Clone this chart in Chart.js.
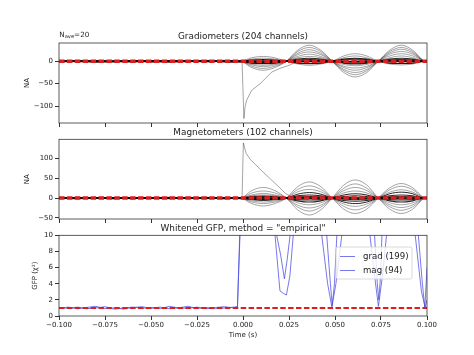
<!DOCTYPE html>
<html><head><meta charset="utf-8">
<script src="https://cdn.jsdelivr.net/npm/chart.js@4"></script>
<style>
html,body{margin:0;padding:0;background:#fff;}
#wrap{position:relative;width:474px;height:355px;overflow:hidden;}
canvas{position:absolute;left:0;top:0;}
</style></head><body>
<div id="wrap">
<canvas id="c1" width="474" height="355"></canvas>
<canvas id="c2" width="474" height="355"></canvas>
<canvas id="c3" width="474" height="355"></canvas>
</div>
<script>
// ---------- tick labels ----------
const xTickValues = [-0.1,-0.075,-0.05,-0.025,0,0.025,0.05,0.075,0.1];
const gradTickValues = [-100,-50,0];
const magTickValues = [-50,0,50,100];
const gfpTickValues = [0,2,4,6,8,10];

// ---------- channel time grid ----------
const chanTimes = [-0.1,-0.08,-0.06,-0.04,-0.02,-0.006,-0.0015,0.00475,0.011,0.01725,0.0235,0.02975,0.036,0.04225,0.0485,0.05475,0.061,0.06725,0.0735,0.07975,0.086,0.09225,0.0985,0.1];
const noiseTimes = [-0.1,-0.09,-0.08,-0.07,-0.06,-0.05,-0.04,-0.03,-0.02,-0.01,0,0.01,0.02,0.03,0.04,0.05,0.06,0.07,0.08,0.09,0.1];

// ---------- gradiometers ----------
const gradSpikeTimes = [-0.1,-0.05,-0.003,-0.0005,0.0005,0.0011,0.002,0.0047,0.0093,0.013,0.0156,0.02,0.025,0.028,0.032,0.04,0.06,0.08,0.1];
const gradSpike = [0,1,0,-2,-128,-102,-87,-65,-50,-35,-24,-16,-9,-3,0,1,-1,0,0];
const gradCh1 = [1,-1,0.5,-0.5,1,0, 0,-14,-20,-14,0,25,36,25,0,-25,-35,-25,0,25,36,25,0,-2];
const gradCh2 = [-0.5,1,-1,0.5,0,-1, 0,-11,-16,-11,0,22,31,22,0,-21,-30,-21,0,22,31,22,0,-2];
const gradCh3 = [0.5,0,1,-1,-0.5,0.5, 0,-8,-12,-8,0,18,26,18,0,-18,-25,-18,0,19,27,19,0,-1];
const gradCh4 = [-1,0.5,0,1,-1,0, 0,-6,-9,-6,0,15,21,15,0,-14,-20,-14,0,16,22,16,0,-1];
const gradCh5 = [0,-0.5,1,0,0.5,-1, 0,-4,-6,-4,0,11,16,11,0,-11,-15,-11,0,12,17,12,0,-1];
const gradCh6 = [1,0,-1,0.5,0,0.5, 0,8,11,8,0,-6,-9,-6,0,12,17,12,0,-6,-8,-6,0,1];
const gradCh7 = [-0.5,0.5,0,-1,1,0, 0,5,7,5,0,-4,-6,-4,0,8,12,8,0,-4,-5,-4,0,0];
const gradCh8 = [0,1,-0.5,0,-1,0.5, 0,-3,-4,-3,0,8,11,8,0,-7,-10,-7,0,8,12,8,0,0];
const gradCh9 = [0.5,-1,0,1,0,-0.5, 0,3,4,3,0,5,7,5,0,-4,-6,-4,0,5,7,5,0,0];
const gradCh10 = [-1,0,1,-0.5,0.5,0, 0,-2,-3,-2,0,-4,-5,-4,0,4,5,4,0,-4,-5,-4,0,0];
const gradCh11 = [0,0.5,-1,1,-0.5,1, 0,2,3,2,0,3,4,3,0,-3,-4,-3,0,3,4,3,0,0];
const gradCh12 = [1,-0.5,0.5,0,1,-1, 0,-4,-5,-4,0,2,3,2,0,5,7,5,0,2,3,2,0,0];
const gradNoise1 = [1.5,-1,2,-0.5,1,-2,0.5,1.5,-1,0,2,-1.5,1,-0.5,1.5,-1,0.5,2,-1,0,1];
const gradNoise2 = [-1.5,1,-2,0.5,-1,1.5,-0.5,-1,2,-1.5,-2,1,-1,0.5,-1.5,1,-0.5,-2,1,-1,-0.5];
const gradNoise3 = [0.5,2,-0.5,-1.5,2,0,-2,0.5,1,2,-0.5,0,2,-1.5,0,2,-1.5,0.5,2,1,-1];

// ---------- magnetometers ----------
const magSpikeTimes = [-0.1,-0.05,-0.003,-0.0005,0.0002,0.0017,0.004,0.01,0.015,0.02,0.023,0.026,0.03,0.04,0.06,0.08,0.1];
const magSpike = [0,-1,0,2,140,113,98,70,48,26,12,4,0,-1,1,0,0];
const magCh1 = [0.5,-1,0,1,-0.5,0, 0,19,27,19,0,-30,-43,-30,0,33,46,33,0,-28,-39,-28,0,2];
const magCh2 = [-1,0.5,1,0,0.5,-0.5, 0,-14,-20,-14,0,29,41,29,0,-28,-39,-28,0,26,37,26,0,-2];
const magCh3 = [0,1,-0.5,-1,0,0.5, 0,13,18,13,0,-23,-33,-23,0,25,36,25,0,-22,-31,-22,0,2];
const magCh4 = [1,0,-1,0.5,1,0, 0,-10,-14,-10,0,22,31,22,0,-21,-30,-21,0,21,30,21,0,-1];
const magCh5 = [-0.5,0.5,0,-1,0,1, 0,8,12,8,0,-18,-25,-18,0,19,27,19,0,-17,-24,-17,0,1];
const magCh6 = [0,-1,0.5,1,-1,0, 0,-7,-10,-7,0,16,22,16,0,-15,-21,-15,0,15,21,15,0,-1];
const magCh7 = [1,0.5,-1,0,0.5,-0.5, 0,6,8,6,0,-12,-17,-12,0,13,18,13,0,-12,-17,-12,0,1];
const magCh8 = [-1,0,0.5,-0.5,0,1, 0,-4,-6,-4,0,10,14,10,0,-10,-14,-10,0,11,15,11,0,0];
const magCh9 = [0.5,-0.5,1,0,-1,0, 0,4,5,4,0,-7,-10,-7,0,8,11,8,0,-7,-10,-7,0,0];
const magCh10 = [0,1,-1,0.5,0,-0.5, 0,-3,-4,-3,0,6,8,6,0,-6,-8,-6,0,6,8,6,0,0];
const magCh11 = [-0.5,0,0.5,-1,1,0, 0,2,3,2,0,-4,-5,-4,0,4,6,4,0,-4,-5,-4,0,0];
const magCh12 = [1,-1,0,0.5,-0.5,1, 0,-2,-3,-2,0,3,4,3,0,-3,-4,-3,0,3,4,3,0,0];
const magNoise1 = [-1.5,2,-0.5,1,-2,1.5,0,-1,2,-0.5,1.5,-2,0.5,1,-1.5,2,-1,0,1.5,-2,0.5];
const magNoise2 = [2,-0.5,1.5,-2,0.5,-1,2,0.5,-1.5,1,-2,1.5,-0.5,-2,1,-1,2,-1.5,0,1,-1];
const magNoise3 = [0,-2,1,1.5,-1,-0.5,-1.5,2,0,-2,0.5,0,-1.5,2,0.5,-0.5,-2,1,-1,0,1.5];

// ---------- whitened GFP ----------
const gfpPreTimes = [-0.1,-0.095,-0.09,-0.085,-0.08,-0.075,-0.07,-0.065,-0.06,-0.055,-0.05,-0.045,-0.04,-0.035,-0.03,-0.025,-0.02,-0.015,-0.01,-0.005];
const gfpGradTimes = gfpPreTimes.concat([-0.003,-0.0015,0.005,0.012,0.0174,0.0201,0.022,0.0236,0.0255,0.0273,0.032,0.037,0.0428,0.046,0.0483,0.0505,0.0537,0.06,0.069,0.0715,0.0736,0.0758,0.078,0.085,0.0936,0.097,0.099,0.1]);
const gfpGrad = [1.05,0.95,1.1,0.9,1.0,1.15,0.85,1.0,1.1,0.95,1.05,0.9,1.2,1.0,0.95,1.1,0.9,1.05,1.15,1.0,
                 1.2,12,60,40,10,3.1,2.8,2.6,5,10,40,60,10,4,1.1,4,10,50,10,5,1.2,5,10,50,10,3,1.1,2];
const gfpMagTimes = gfpPreTimes.concat([-0.003,-0.0015,0.005,0.0183,0.0205,0.0225,0.024,0.0256,0.036,0.0455,0.0475,0.0485,0.0497,0.051,0.06,0.0715,0.073,0.0738,0.0748,0.0755,0.086,0.0953,0.0975,0.0988,0.1]);
const gfpMag = [0.95,1.1,0.9,1.05,1.2,0.9,1.0,0.85,1.05,1.15,0.95,1.1,0.9,1.0,1.2,0.95,1.05,0.9,1.0,1.1,
                1.1,11,50,10,7.5,4.6,7,10,50,10,4,1.3,4,10,50,10,4,2.0,5,10,50,10,4,1.0,6];

const refTimes = [-0.1,0.1];
const refZero = [0,0];
const refOne = [1,1];
const legendLabels = ['grad (199)','mag (94)'];

// ---------- helpers ----------
const FONT = '"DejaVu Sans", sans-serif';
const pts = (xs, ys) => xs.map((x,i)=>({x:x, y:ys[i]}));
const minus = v => (v < 0 ? '\u2212' : '') + Math.abs(v);
const fmtX = v => (v < 0 ? '\u2212' : '') + Math.abs(v).toFixed(3);

function line(xs, ys, color, width, smooth) {
  return { data: pts(xs, ys), borderColor: color, borderWidth: width, pointRadius: 0,
           fill: false, order: 2, tension: smooth ? 0.4 : 0,
           cubicInterpolationMode: smooth ? 'monotone' : 'default' };
}
function refLine(ys, width) {
  return { data: pts(refTimes, ys), borderColor: 'rgb(222,30,30)', borderWidth: width,
           borderDash: [5.5,2.4], pointRadius: 0, fill: false, order: 0, tension: 0 };
}

const GRAY = 'rgba(0,0,0,0.45)', DARK = 'rgba(0,0,0,0.85)';

function decor(title, extra) {
  return { id: 'decor', afterDraw(chart) {
    const ctx = chart.ctx, a = chart.chartArea;
    ctx.save();
    ctx.strokeStyle = '#333'; ctx.lineWidth = 0.8;
    ctx.strokeRect(a.left, a.top, a.right - a.left, a.bottom - a.top);
    ctx.fillStyle = '#222';
    ctx.font = '8.9px ' + FONT; ctx.textAlign = 'center'; ctx.textBaseline = 'alphabetic';
    ctx.fillText(title, (a.left + a.right) / 2, a.top - 4.3);
    if (extra) extra(ctx, a);
    ctx.restore();
  }};
}

function makeChart(id, datasets, cfg) {
  const tickFont = { family: FONT, size: 7 };
  return new Chart(document.getElementById(id), {
    type: 'line',
    data: { datasets: datasets },
    options: {
      responsive: false, animation: false, events: [],
      layout: { padding: cfg.padding },
      scales: {
        x: { type: 'linear', min: -0.1, max: 0.1,
             afterBuildTicks: s => { s.ticks = xTickValues.map(v => ({ value: v })); },
             afterFit: s => { s.height = cfg.xH; },
             grid: { drawOnChartArea: false, drawTicks: true, tickLength: 4, color: '#333' },
             border: { display: false },
             ticks: { display: cfg.xLabels, padding: 1, font: tickFont, color: '#222',
                      maxRotation: 0, autoSkip: false, callback: v => fmtX(v) },
             title: { display: !!cfg.xTitle, text: cfg.xTitle || '', padding: 0, font: tickFont, color: '#222' } },
        y: { type: 'linear', min: cfg.yMin, max: cfg.yMax,
             afterBuildTicks: s => { s.ticks = cfg.yTicks.map(v => ({ value: v })); },
             afterFit: s => { s.width = cfg.yW; },
             grid: { drawOnChartArea: false, drawTicks: true, tickLength: 4, color: '#333' },
             border: { display: false },
             ticks: { padding: 2, font: tickFont, color: '#222', callback: v => minus(v) },
             title: { display: true, text: cfg.yTitle, padding: 0, font: tickFont, color: '#222' } }
      },
      plugins: { legend: { display: false }, tooltip: { enabled: false } }
    },
    plugins: [decor(cfg.title, cfg.extra)]
  });
}

// ---------- panel 1 ----------
const gradSets = [
  refLine(refZero, 3.5),
  line(gradSpikeTimes, gradSpike, GRAY, 0.8, false),
  line(chanTimes, gradCh1, GRAY, 0.8, true),
  line(chanTimes, gradCh2, GRAY, 0.8, true),
  line(chanTimes, gradCh3, GRAY, 0.8, true),
  line(chanTimes, gradCh4, GRAY, 0.8, true),
  line(chanTimes, gradCh5, GRAY, 0.8, true),
  line(chanTimes, gradCh6, GRAY, 0.8, true),
  line(chanTimes, gradCh7, GRAY, 0.8, true),
  line(chanTimes, gradCh8, GRAY, 0.8, true),
  line(chanTimes, gradCh9, DARK, 1.1, true),
  line(chanTimes, gradCh10, DARK, 1.1, true),
  line(chanTimes, gradCh11, DARK, 1.1, true),
  line(chanTimes, gradCh12, DARK, 1.1, true),
  line(noiseTimes, gradNoise1, DARK, 1, false),
  line(noiseTimes, gradNoise2, DARK, 1, false),
  line(noiseTimes, gradNoise3, DARK, 1, false)
];
makeChart('c1', gradSets, {
  padding: { left: 22.8, right: 47, top: 43, bottom: 228 }, xH: 4, yW: 36.2, xLabels: false,
  yMin: -138, yMax: 41, yTicks: gradTickValues, yTitle: 'NA', title: 'Gradiometers (204 channels)',
  extra: (ctx, a) => {
    ctx.textAlign = 'left';
    let x = a.left + 0.3; const y = a.top - 6;
    ctx.font = '7.2px ' + FONT; ctx.fillText('N', x, y); x += ctx.measureText('N').width;
    ctx.font = '5.2px ' + FONT; ctx.fillText('ave', x, y + 1.3); x += ctx.measureText('ave').width;
    ctx.font = '7.2px ' + FONT; ctx.fillText('=20', x, y);
  }
});

// ---------- panel 2 ----------
const magSets = [
  refLine(refZero, 3.5),
  line(magSpikeTimes, magSpike, GRAY, 0.8, false),
  line(chanTimes, magCh1, GRAY, 0.8, true),
  line(chanTimes, magCh2, GRAY, 0.8, true),
  line(chanTimes, magCh3, GRAY, 0.8, true),
  line(chanTimes, magCh4, GRAY, 0.8, true),
  line(chanTimes, magCh5, GRAY, 0.8, true),
  line(chanTimes, magCh6, GRAY, 0.8, true),
  line(chanTimes, magCh7, GRAY, 0.8, true),
  line(chanTimes, magCh8, DARK, 1.0, true),
  line(chanTimes, magCh9, DARK, 1.1, true),
  line(chanTimes, magCh10, DARK, 1.1, true),
  line(chanTimes, magCh11, DARK, 1.1, true),
  line(chanTimes, magCh12, DARK, 1.1, true),
  line(noiseTimes, magNoise1, DARK, 1, false),
  line(noiseTimes, magNoise2, DARK, 1, false),
  line(noiseTimes, magNoise3, DARK, 1, false)
];
makeChart('c2', magSets, {
  padding: { left: 22.8, right: 47, top: 139.3, bottom: 132 }, xH: 4, yW: 36.2, xLabels: false,
  yMin: -53, yMax: 149, yTicks: magTickValues, yTitle: 'NA', title: 'Magnetometers (102 channels)'
});

// ---------- panel 3 ----------
const BLUE = 'rgba(75,75,225,0.75)';
const gfpSets = [
  refLine(refOne, 2),
  line(gfpGradTimes, gfpGrad, BLUE, 1, false),
  line(gfpMagTimes, gfpMag, BLUE, 1, false)
];
makeChart('c3', gfpSets, {
  padding: { left: 30.8, right: 47, top: 235.3, bottom: 15.8 }, xH: 23.2, yW: 28.2, xLabels: true,
  xTitle: 'Time (s)', yMin: 0, yMax: 10, yTicks: gfpTickValues, yTitle: 'GFP (\u03c7\u00b2)',
  title: 'Whitened GFP, method = "empirical"',
  extra: (ctx, a) => {
    const bx = 336, by = 247, bw = 76, bh = 32;
    ctx.fillStyle = 'rgba(255,255,255,0.8)'; ctx.strokeStyle = '#d0d0d0'; ctx.lineWidth = 0.8;
    ctx.beginPath(); ctx.roundRect(bx, by, bw, bh, 2); ctx.fill(); ctx.stroke();
    ctx.font = '8.6px ' + FONT; ctx.textAlign = 'left'; ctx.textBaseline = 'middle';
    legendLabels.forEach((lab, i) => {
      const yy = by + 9.5 + i * 14;
      ctx.strokeStyle = BLUE; ctx.lineWidth = 1;
      ctx.beginPath(); ctx.moveTo(bx + 4, yy); ctx.lineTo(bx + 19, yy); ctx.stroke();
      ctx.fillStyle = '#222'; ctx.fillText(lab, bx + 27, yy);
    });
  }
});
</script>
</body></html>
